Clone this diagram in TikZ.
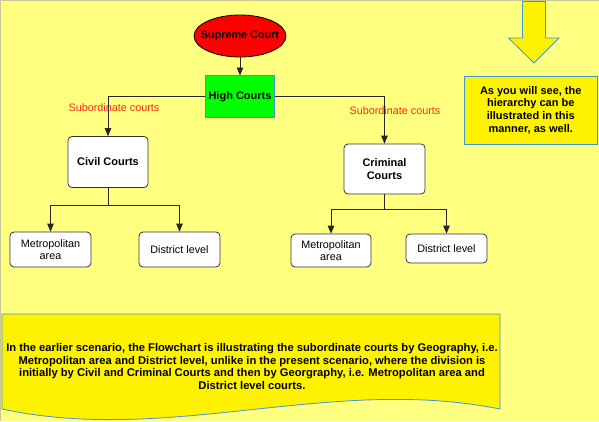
\documentclass[tikz,border=0pt]{standalone}
\usepackage{fontspec}
\setmainfont{Liberation Sans}
\usepackage{xcolor}
\usetikzlibrary{shapes.geometric, arrows, positioning, calc}

\definecolor{pagebg}{RGB}{255,255,128}
\definecolor{frameline}{RGB}{200,200,150}
\definecolor{boxblue}{RGB}{60,150,215}
\definecolor{labelred}{RGB}{245,45,20}

\begin{document}
\begin{tikzpicture}[x=1pt, y=-1pt,
    every node/.style={font=\fontsize{10.8}{12.6}\selectfont},
    court/.style={rectangle, draw=black!80, fill=white, rounded corners=4pt, line width=0.8pt, align=center},
    block/.style={rectangle, draw=boxblue, line width=0.8pt, align=center, font=\bfseries\fontsize{11}{12.6}\selectfont},
    sublabel/.style={text=labelred, inner sep=0pt},
    link/.style={line width=0.8pt, draw=black!85},
    arrow/.style={link, ->, >=triangle 45}]

    % page
    \useasboundingbox (0,0) rectangle (599,421);
    \fill [pagebg] (0,0) rectangle (599,421);
    \draw [frameline, line width=1pt] (0.5,421) -- (0.5,0.5) -- (599,0.5);

    % top of the hierarchy
    \node (supreme) [ellipse, draw=black, fill=red, line width=0.8pt, inner xsep=-6.5pt, inner ysep=0pt, minimum height=42pt, font=\bfseries\fontsize{10.8}{12.6}\selectfont] at (240,36) {Supreme Court};
    \node (high) [block, fill=green, minimum width=69pt, minimum height=42pt, inner sep=0pt, below=18pt of supreme] {High Courts};

    % subordinate courts
    \node (civil) [court, minimum width=80pt, minimum height=51pt, font=\bfseries\fontsize{11}{12.6}\selectfont] at (108,162) {Civil Courts};
    \node (criminal) [court, minimum width=81pt, minimum height=50pt, font=\bfseries\fontsize{11}{12.6}\selectfont] at (384.5,169) {Criminal\\Courts};
    \node (civilnote) [sublabel] at (114,108) {Subordinate courts};
    \node (crimnote) [sublabel] at (395,111) {Subordinate courts};

    % geography
    \node (metrocivil) [court, minimum width=81pt, minimum height=35pt] at (50.5,249.5) {Metropolitan\\area};
    \node (districtcivil) [court, minimum width=81pt, minimum height=35pt] at (179.5,249.5) {District level};
    \node (metrocrim) [court, minimum width=80pt, minimum height=33pt] at (331,250.5) {Metropolitan\\area};
    \node (districtcrim) [court, minimum width=81pt, minimum height=29pt] at (446.5,248.5) {District level};

    \coordinate (civilsplit) at (108,205);
    \coordinate (crimsplit) at (384.5,209);

    \draw [arrow] (supreme) -- (high);
    \draw [arrow] (high.west) -| (civil.north);
    \draw [arrow] (high.east) -| (criminal.north);
    \draw [link] (civil) -- (civilsplit);
    \draw [arrow] (civilsplit) -| (metrocivil);
    \draw [arrow] (civilsplit) -| (districtcivil);
    \draw [link] (criminal) -- (crimsplit);
    \draw [arrow] (crimsplit) -| (metrocrim);
    \draw [arrow] (crimsplit) -| (districtcrim);

    % side remark
    \draw [draw=boxblue, fill=yellow, line width=0.8pt] (522.5,1.5) -- (545.5,1.5) -- (545.5,38) -- (559,38) -- (534,63) -- (508.5,38) -- (522.5,38) -- cycle;
    \node (remark) [block, fill=yellow, minimum width=133.5pt, minimum height=68pt] at (530.75,110) {As you will see, the\\hierarchy can be\\illustrated in this\\manner, as well.};

    % explanation
    \draw [draw=boxblue, fill=yellow, line width=0.8pt] (2,314) -- (500,314) -- (500,409) .. controls (330,375) and (170,445) .. (2,409) -- cycle;
    \node (explain) [align=center, font=\bfseries\fontsize{11.2}{12.9}\selectfont] at (252,366.5) {In the earlier scenario, the Flowchart is illustrating the subordinate courts by Geography, i.e.\\Metropolitan area and District level, unlike in the present scenario, where the division is\\initially by Civil and Criminal Courts and then by Georgraphy, i.e. Metropolitan area and\\District level courts.};
\end{tikzpicture}
\end{document}
